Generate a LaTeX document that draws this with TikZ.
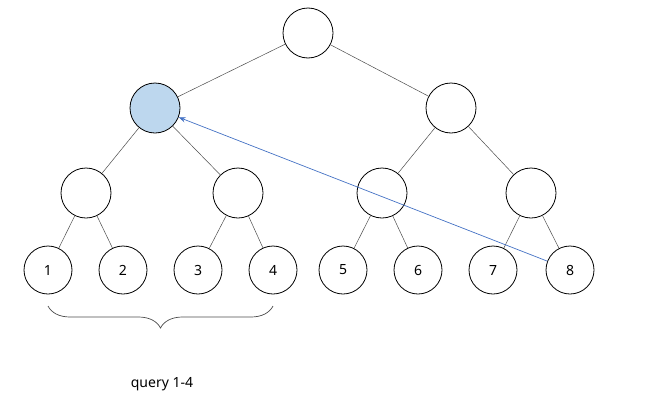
\documentclass[tikz,border=0pt]{standalone}
\usepackage{fontspec}
\setmainfont{Noto Sans}
\usetikzlibrary{decorations.pathreplacing,arrows.meta}
\begin{document}
\begin{tikzpicture}[x=1pt,y=-1pt,
  nd/.style={circle,draw=black,line width=0.8pt,minimum size=50pt,inner sep=0pt,font=\fontsize{14}{16}\selectfont},
  lf/.style={nd,minimum size=48pt},
  ed/.style={draw=black!70,line width=0.5pt}]
\useasboundingbox (0,0) rectangle (660,407);
\node[nd] (r) at (308,33) {};
\node[nd,fill={rgb,255:red,189;green,215;blue,238}] (a) at (155,108) {};
\node[nd] (b) at (451,108) {};
\node[nd] (c1) at (86,193) {};
\node[nd] (c2) at (238,193) {};
\node[nd] (c3) at (382,193) {};
\node[nd] (c4) at (531,193) {};
\foreach \i/\x in {1/48,2/123,3/198,4/273,5/343,6/418,7/493,8/570}
  \node[lf] (l\i) at (\x,270) {\i};
\draw[ed] (r)--(a) (r)--(b) (a)--(c1) (a)--(c2) (b)--(c3) (b)--(c4)
  (c1)--(l1) (c1)--(l2) (c2)--(l3) (c2)--(l4) (c3)--(l5) (c3)--(l6) (c4)--(l7) (c4)--(l8);
\draw[-{Stealth[length=7pt]},draw={rgb,255:red,68;green,114;blue,196},line width=0.7pt] (l8) -- (a);
\coordinate (bl) at (48,306);
\coordinate (br) at (273,306);
\draw[black!70,line width=0.7pt,decoration={brace,mirror,amplitude=22pt,aspect=0.5}] decorate {(bl) -- (br)};
\node[font=\fontsize{14}{16}\selectfont] (q) at (162,384) {query 1-4};
\end{tikzpicture}
\end{document}
